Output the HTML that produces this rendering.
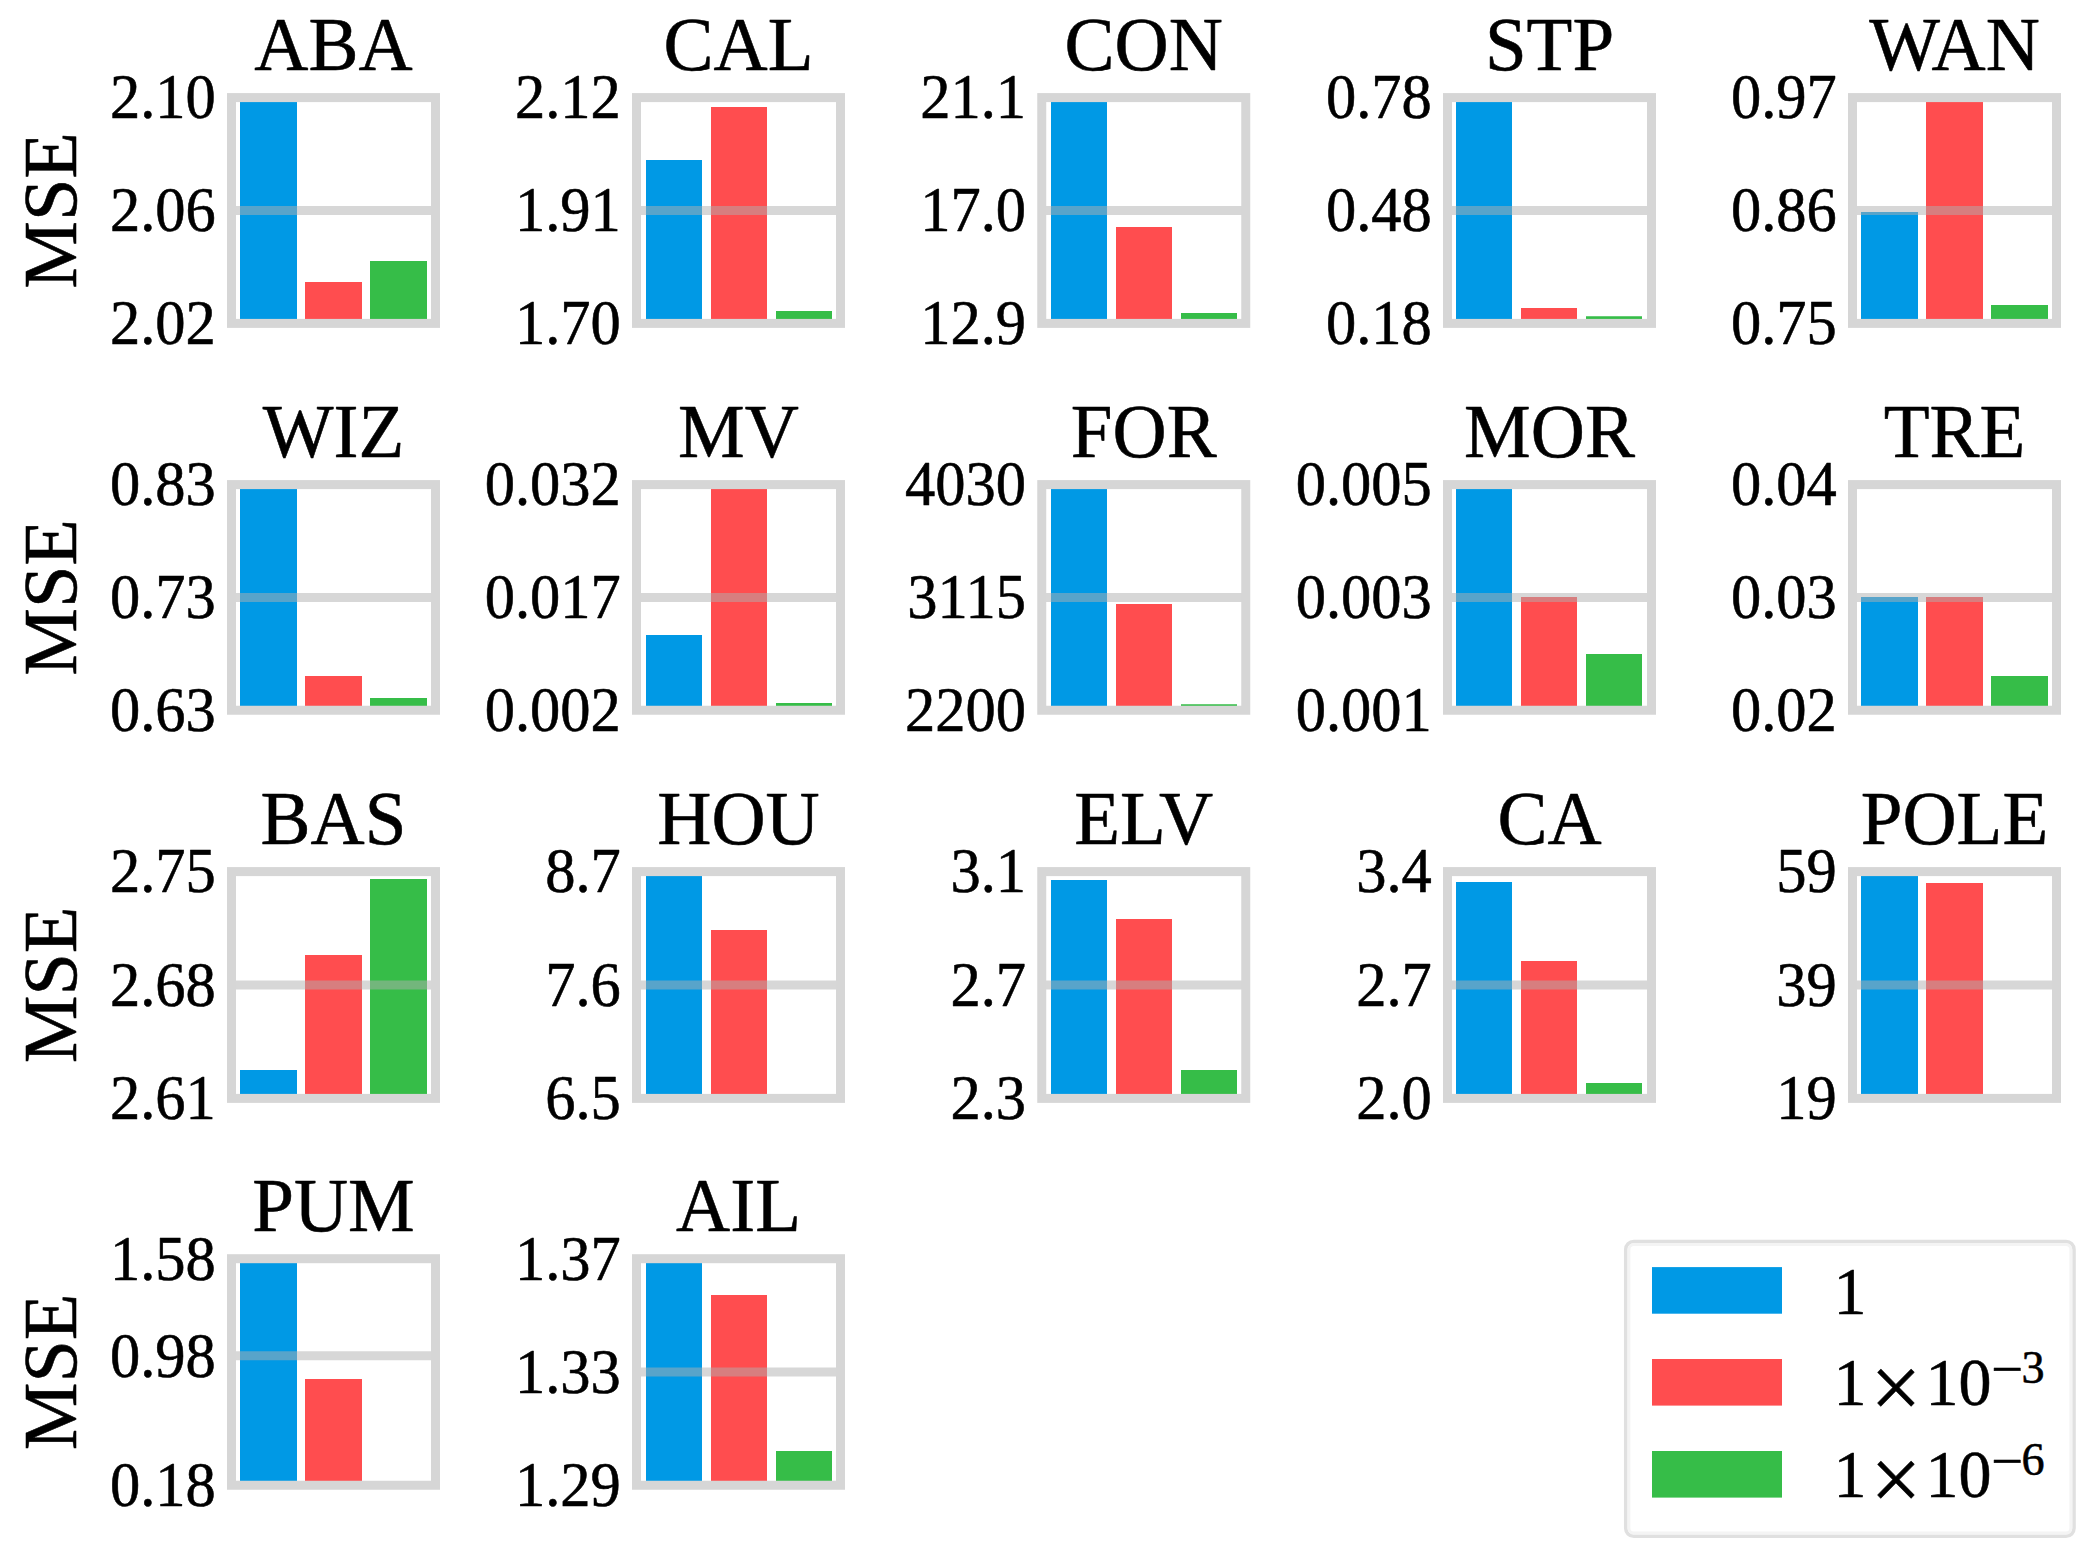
<!DOCTYPE html>
<html lang="en"><head><meta charset="utf-8"><title>MSE bar charts</title>
<style>html,body{margin:0;padding:0;background:#fff}svg{display:block}text{font-family:"Liberation Serif", "DejaVu Serif", serif;fill:#000;stroke:#000;stroke-width:0.55px;stroke-linejoin:round}.tk{font-size:60px;text-anchor:end}.tt{font-size:75px;text-anchor:middle}.yl{font-size:75px;text-anchor:middle}.lg{font-size:66px}</style></head><body>
<svg width="2097" height="1568" viewBox="0 0 2097 1568">
<rect width="2097" height="1568" fill="#fff"/>
<g>
<rect x="240.00" y="97.60" width="57.00" height="225.80" fill="#0099e5"/>
<rect x="305.00" y="282.00" width="57.00" height="41.40" fill="#ff4d4f"/>
<rect x="370.00" y="261.00" width="57.00" height="62.40" fill="#36bd48"/>
<line x1="231.50" y1="210.50" x2="435.50" y2="210.50" stroke="#b0b0b0" stroke-opacity="0.5" stroke-width="9.0"/>
<rect x="231.50" y="97.60" width="204.00" height="225.80" fill="none" stroke="#d6d6d6" stroke-width="9.0"/>
<text class="tk" transform="translate(215.75 118.40) scale(1.008 1.050)">2.10</text>
<text class="tk" transform="translate(215.75 231.30) scale(1.008 1.050)">2.06</text>
<text class="tk" transform="translate(215.75 344.20) scale(1.008 1.050)">2.02</text>
<text class="tt" transform="translate(333.50 70.10) scale(1.000 1.027)">ABA</text>
<text class="yl" transform="translate(75.90 210.50) rotate(-90) scale(1.015 1.027)">MSE</text>
</g>
<g>
<rect x="646.00" y="160.00" width="56.00" height="163.40" fill="#0099e5"/>
<rect x="711.00" y="107.00" width="56.00" height="216.40" fill="#ff4d4f"/>
<rect x="776.00" y="311.00" width="56.00" height="12.40" fill="#36bd48"/>
<line x1="636.50" y1="210.50" x2="840.50" y2="210.50" stroke="#b0b0b0" stroke-opacity="0.5" stroke-width="9.0"/>
<rect x="636.50" y="97.60" width="204.00" height="225.80" fill="none" stroke="#d6d6d6" stroke-width="9.0"/>
<text class="tk" transform="translate(620.75 118.40) scale(1.008 1.050)">2.12</text>
<text class="tk" transform="translate(620.75 231.30) scale(1.008 1.050)">1.91</text>
<text class="tk" transform="translate(620.75 344.20) scale(1.008 1.050)">1.70</text>
<text class="tt" transform="translate(738.50 70.10) scale(1.000 1.027)">CAL</text>
</g>
<g>
<rect x="1051.00" y="97.60" width="56.00" height="225.80" fill="#0099e5"/>
<rect x="1116.00" y="227.00" width="56.00" height="96.40" fill="#ff4d4f"/>
<rect x="1181.00" y="313.00" width="56.00" height="10.40" fill="#36bd48"/>
<line x1="1041.75" y1="210.50" x2="1245.75" y2="210.50" stroke="#b0b0b0" stroke-opacity="0.5" stroke-width="9.0"/>
<rect x="1041.75" y="97.60" width="204.00" height="225.80" fill="none" stroke="#d6d6d6" stroke-width="9.0"/>
<text class="tk" transform="translate(1026.00 118.40) scale(1.008 1.050)">21.1</text>
<text class="tk" transform="translate(1026.00 231.30) scale(1.008 1.050)">17.0</text>
<text class="tk" transform="translate(1026.00 344.20) scale(1.008 1.050)">12.9</text>
<text class="tt" transform="translate(1143.75 70.10) scale(1.000 1.027)">CON</text>
</g>
<g>
<rect x="1456.00" y="97.60" width="56.00" height="225.80" fill="#0099e5"/>
<rect x="1521.00" y="308.00" width="56.00" height="15.40" fill="#ff4d4f"/>
<rect x="1586.00" y="316.25" width="56.00" height="7.15" fill="#36bd48"/>
<line x1="1447.50" y1="210.50" x2="1651.50" y2="210.50" stroke="#b0b0b0" stroke-opacity="0.5" stroke-width="9.0"/>
<rect x="1447.50" y="97.60" width="204.00" height="225.80" fill="none" stroke="#d6d6d6" stroke-width="9.0"/>
<text class="tk" transform="translate(1431.75 118.40) scale(1.008 1.050)">0.78</text>
<text class="tk" transform="translate(1431.75 231.30) scale(1.008 1.050)">0.48</text>
<text class="tk" transform="translate(1431.75 344.20) scale(1.008 1.050)">0.18</text>
<text class="tt" transform="translate(1549.50 70.10) scale(1.000 1.027)">STP</text>
</g>
<g>
<rect x="1861.00" y="212.00" width="57.00" height="111.40" fill="#0099e5"/>
<rect x="1926.00" y="97.60" width="57.00" height="225.80" fill="#ff4d4f"/>
<rect x="1991.00" y="305.00" width="57.00" height="18.40" fill="#36bd48"/>
<line x1="1852.50" y1="210.50" x2="2056.50" y2="210.50" stroke="#b0b0b0" stroke-opacity="0.5" stroke-width="9.0"/>
<rect x="1852.50" y="97.60" width="204.00" height="225.80" fill="none" stroke="#d6d6d6" stroke-width="9.0"/>
<text class="tk" transform="translate(1836.75 118.40) scale(1.008 1.050)">0.97</text>
<text class="tk" transform="translate(1836.75 231.30) scale(1.008 1.050)">0.86</text>
<text class="tk" transform="translate(1836.75 344.20) scale(1.008 1.050)">0.75</text>
<text class="tt" transform="translate(1954.50 70.10) scale(1.000 1.027)">WAN</text>
</g>
<g>
<rect x="240.00" y="484.60" width="57.00" height="225.65" fill="#0099e5"/>
<rect x="305.00" y="676.00" width="57.00" height="34.25" fill="#ff4d4f"/>
<rect x="370.00" y="698.00" width="57.00" height="12.25" fill="#36bd48"/>
<line x1="231.50" y1="597.42" x2="435.50" y2="597.42" stroke="#b0b0b0" stroke-opacity="0.5" stroke-width="9.0"/>
<rect x="231.50" y="484.60" width="204.00" height="225.65" fill="none" stroke="#d6d6d6" stroke-width="9.0"/>
<text class="tk" transform="translate(215.75 505.40) scale(1.008 1.050)">0.83</text>
<text class="tk" transform="translate(215.75 618.22) scale(1.008 1.050)">0.73</text>
<text class="tk" transform="translate(215.75 731.05) scale(1.008 1.050)">0.63</text>
<text class="tt" transform="translate(333.50 457.10) scale(1.000 1.027)">WIZ</text>
<text class="yl" transform="translate(75.90 597.42) rotate(-90) scale(1.015 1.027)">MSE</text>
</g>
<g>
<rect x="646.00" y="635.00" width="56.00" height="75.25" fill="#0099e5"/>
<rect x="711.00" y="484.60" width="56.00" height="225.65" fill="#ff4d4f"/>
<rect x="776.00" y="703.00" width="56.00" height="7.25" fill="#36bd48"/>
<line x1="636.50" y1="597.42" x2="840.50" y2="597.42" stroke="#b0b0b0" stroke-opacity="0.5" stroke-width="9.0"/>
<rect x="636.50" y="484.60" width="204.00" height="225.65" fill="none" stroke="#d6d6d6" stroke-width="9.0"/>
<text class="tk" transform="translate(620.75 505.40) scale(1.008 1.050)">0.032</text>
<text class="tk" transform="translate(620.75 618.22) scale(1.008 1.050)">0.017</text>
<text class="tk" transform="translate(620.75 731.05) scale(1.008 1.050)">0.002</text>
<text class="tt" transform="translate(738.50 457.10) scale(1.000 1.027)">MV</text>
</g>
<g>
<rect x="1051.00" y="484.60" width="56.00" height="225.65" fill="#0099e5"/>
<rect x="1116.00" y="604.00" width="56.00" height="106.25" fill="#ff4d4f"/>
<rect x="1181.00" y="704.25" width="56.00" height="6.00" fill="#36bd48"/>
<line x1="1041.75" y1="597.42" x2="1245.75" y2="597.42" stroke="#b0b0b0" stroke-opacity="0.5" stroke-width="9.0"/>
<rect x="1041.75" y="484.60" width="204.00" height="225.65" fill="none" stroke="#d6d6d6" stroke-width="9.0"/>
<text class="tk" transform="translate(1026.00 505.40) scale(1.008 1.050)">4030</text>
<text class="tk" transform="translate(1026.00 618.22) scale(1.008 1.050)">3115</text>
<text class="tk" transform="translate(1026.00 731.05) scale(1.008 1.050)">2200</text>
<text class="tt" transform="translate(1143.75 457.10) scale(1.000 1.027)">FOR</text>
</g>
<g>
<rect x="1456.00" y="484.60" width="56.00" height="225.65" fill="#0099e5"/>
<rect x="1521.00" y="597.00" width="56.00" height="113.25" fill="#ff4d4f"/>
<rect x="1586.00" y="654.00" width="56.00" height="56.25" fill="#36bd48"/>
<line x1="1447.50" y1="597.42" x2="1651.50" y2="597.42" stroke="#b0b0b0" stroke-opacity="0.5" stroke-width="9.0"/>
<rect x="1447.50" y="484.60" width="204.00" height="225.65" fill="none" stroke="#d6d6d6" stroke-width="9.0"/>
<text class="tk" transform="translate(1431.75 505.40) scale(1.008 1.050)">0.005</text>
<text class="tk" transform="translate(1431.75 618.22) scale(1.008 1.050)">0.003</text>
<text class="tk" transform="translate(1431.75 731.05) scale(1.008 1.050)">0.001</text>
<text class="tt" transform="translate(1549.50 457.10) scale(1.000 1.027)">MOR</text>
</g>
<g>
<rect x="1861.00" y="597.00" width="57.00" height="113.25" fill="#0099e5"/>
<rect x="1926.00" y="597.00" width="57.00" height="113.25" fill="#ff4d4f"/>
<rect x="1991.00" y="676.00" width="57.00" height="34.25" fill="#36bd48"/>
<line x1="1852.50" y1="597.42" x2="2056.50" y2="597.42" stroke="#b0b0b0" stroke-opacity="0.5" stroke-width="9.0"/>
<rect x="1852.50" y="484.60" width="204.00" height="225.65" fill="none" stroke="#d6d6d6" stroke-width="9.0"/>
<text class="tk" transform="translate(1836.75 505.40) scale(1.008 1.050)">0.04</text>
<text class="tk" transform="translate(1836.75 618.22) scale(1.008 1.050)">0.03</text>
<text class="tk" transform="translate(1836.75 731.05) scale(1.008 1.050)">0.02</text>
<text class="tt" transform="translate(1954.50 457.10) scale(1.000 1.027)">TRE</text>
</g>
<g>
<rect x="240.00" y="1070.00" width="57.00" height="28.40" fill="#0099e5"/>
<rect x="305.00" y="955.00" width="57.00" height="143.40" fill="#ff4d4f"/>
<rect x="370.00" y="879.00" width="57.00" height="219.40" fill="#36bd48"/>
<line x1="231.50" y1="985.00" x2="435.50" y2="985.00" stroke="#b0b0b0" stroke-opacity="0.5" stroke-width="9.0"/>
<rect x="231.50" y="871.60" width="204.00" height="226.80" fill="none" stroke="#d6d6d6" stroke-width="9.0"/>
<text class="tk" transform="translate(215.75 892.40) scale(1.008 1.050)">2.75</text>
<text class="tk" transform="translate(215.75 1005.80) scale(1.008 1.050)">2.68</text>
<text class="tk" transform="translate(215.75 1119.20) scale(1.008 1.050)">2.61</text>
<text class="tt" transform="translate(333.50 844.10) scale(1.000 1.027)">BAS</text>
<text class="yl" transform="translate(75.90 985.00) rotate(-90) scale(1.015 1.027)">MSE</text>
</g>
<g>
<rect x="646.00" y="871.60" width="56.00" height="226.80" fill="#0099e5"/>
<rect x="711.00" y="930.00" width="56.00" height="168.40" fill="#ff4d4f"/>
<line x1="636.50" y1="985.00" x2="840.50" y2="985.00" stroke="#b0b0b0" stroke-opacity="0.5" stroke-width="9.0"/>
<rect x="636.50" y="871.60" width="204.00" height="226.80" fill="none" stroke="#d6d6d6" stroke-width="9.0"/>
<text class="tk" transform="translate(620.75 892.40) scale(1.008 1.050)">8.7</text>
<text class="tk" transform="translate(620.75 1005.80) scale(1.008 1.050)">7.6</text>
<text class="tk" transform="translate(620.75 1119.20) scale(1.008 1.050)">6.5</text>
<text class="tt" transform="translate(738.50 844.10) scale(1.000 1.027)">HOU</text>
</g>
<g>
<rect x="1051.00" y="880.00" width="56.00" height="218.40" fill="#0099e5"/>
<rect x="1116.00" y="919.00" width="56.00" height="179.40" fill="#ff4d4f"/>
<rect x="1181.00" y="1070.00" width="56.00" height="28.40" fill="#36bd48"/>
<line x1="1041.75" y1="985.00" x2="1245.75" y2="985.00" stroke="#b0b0b0" stroke-opacity="0.5" stroke-width="9.0"/>
<rect x="1041.75" y="871.60" width="204.00" height="226.80" fill="none" stroke="#d6d6d6" stroke-width="9.0"/>
<text class="tk" transform="translate(1026.00 892.40) scale(1.008 1.050)">3.1</text>
<text class="tk" transform="translate(1026.00 1005.80) scale(1.008 1.050)">2.7</text>
<text class="tk" transform="translate(1026.00 1119.20) scale(1.008 1.050)">2.3</text>
<text class="tt" transform="translate(1143.75 844.10) scale(1.000 1.027)">ELV</text>
</g>
<g>
<rect x="1456.00" y="882.00" width="56.00" height="216.40" fill="#0099e5"/>
<rect x="1521.00" y="961.00" width="56.00" height="137.40" fill="#ff4d4f"/>
<rect x="1586.00" y="1083.00" width="56.00" height="15.40" fill="#36bd48"/>
<line x1="1447.50" y1="985.00" x2="1651.50" y2="985.00" stroke="#b0b0b0" stroke-opacity="0.5" stroke-width="9.0"/>
<rect x="1447.50" y="871.60" width="204.00" height="226.80" fill="none" stroke="#d6d6d6" stroke-width="9.0"/>
<text class="tk" transform="translate(1431.75 892.40) scale(1.008 1.050)">3.4</text>
<text class="tk" transform="translate(1431.75 1005.80) scale(1.008 1.050)">2.7</text>
<text class="tk" transform="translate(1431.75 1119.20) scale(1.008 1.050)">2.0</text>
<text class="tt" transform="translate(1549.50 844.10) scale(1.000 1.027)">CA</text>
</g>
<g>
<rect x="1861.00" y="871.60" width="57.00" height="226.80" fill="#0099e5"/>
<rect x="1926.00" y="883.00" width="57.00" height="215.40" fill="#ff4d4f"/>
<line x1="1852.50" y1="985.00" x2="2056.50" y2="985.00" stroke="#b0b0b0" stroke-opacity="0.5" stroke-width="9.0"/>
<rect x="1852.50" y="871.60" width="204.00" height="226.80" fill="none" stroke="#d6d6d6" stroke-width="9.0"/>
<text class="tk" transform="translate(1836.75 892.40) scale(1.008 1.050)">59</text>
<text class="tk" transform="translate(1836.75 1005.80) scale(1.008 1.050)">39</text>
<text class="tk" transform="translate(1836.75 1119.20) scale(1.008 1.050)">19</text>
<text class="tt" transform="translate(1954.50 844.10) scale(1.000 1.027)">POLE</text>
</g>
<g>
<rect x="240.00" y="1258.70" width="57.00" height="226.55" fill="#0099e5"/>
<rect x="305.00" y="1379.00" width="57.00" height="106.25" fill="#ff4d4f"/>
<line x1="231.50" y1="1355.79" x2="435.50" y2="1355.79" stroke="#b0b0b0" stroke-opacity="0.5" stroke-width="9.0"/>
<rect x="231.50" y="1258.70" width="204.00" height="226.55" fill="none" stroke="#d6d6d6" stroke-width="9.0"/>
<text class="tk" transform="translate(215.75 1279.50) scale(1.008 1.050)">1.58</text>
<text class="tk" transform="translate(215.75 1376.59) scale(1.008 1.050)">0.98</text>
<text class="tk" transform="translate(215.75 1506.05) scale(1.008 1.050)">0.18</text>
<text class="tt" transform="translate(333.50 1231.20) scale(1.000 1.027)">PUM</text>
<text class="yl" transform="translate(75.90 1371.97) rotate(-90) scale(1.015 1.027)">MSE</text>
</g>
<g>
<rect x="646.00" y="1258.70" width="56.00" height="226.55" fill="#0099e5"/>
<rect x="711.00" y="1295.00" width="56.00" height="190.25" fill="#ff4d4f"/>
<rect x="776.00" y="1451.00" width="56.00" height="34.25" fill="#36bd48"/>
<line x1="636.50" y1="1371.97" x2="840.50" y2="1371.97" stroke="#b0b0b0" stroke-opacity="0.5" stroke-width="9.0"/>
<rect x="636.50" y="1258.70" width="204.00" height="226.55" fill="none" stroke="#d6d6d6" stroke-width="9.0"/>
<text class="tk" transform="translate(620.75 1279.50) scale(1.008 1.050)">1.37</text>
<text class="tk" transform="translate(620.75 1392.77) scale(1.008 1.050)">1.33</text>
<text class="tk" transform="translate(620.75 1506.05) scale(1.008 1.050)">1.29</text>
<text class="tt" transform="translate(738.50 1231.20) scale(1.000 1.027)">AIL</text>
</g>
<g>
<rect x="1625.75" y="1241.5" width="448.25" height="294.75" rx="8" ry="8" fill="#fff" stroke="#e0e0e0" stroke-width="3.6"/>
<rect x="1628.9" y="1244.6" width="442" height="288.5" rx="5" ry="5" fill="none" stroke="#f4f4f4" stroke-width="3"/>
<rect x="1652.00" y="1267.10" width="130.00" height="46.60" fill="#0099e5"/>
<rect x="1652.00" y="1359.00" width="130.00" height="46.60" fill="#ff4d4f"/>
<rect x="1652.00" y="1451.00" width="130.00" height="46.60" fill="#36bd48"/>
<text class="lg" style="font-size:66px" transform="translate(1833.50 1313.75) scale(1.000 1.027)">1</text>
<text class="lg" style="font-size:66px" transform="translate(1833.50 1404.75) scale(1.000 1.027)">1</text>
<text class="lg" style="font-size:90px" transform="translate(1870.40 1418.45) scale(1.000 1.000)">×</text>
<text class="lg" style="font-size:66px" transform="translate(1925.50 1404.75) scale(1.000 1.027)">10</text>
<text class="lg" style="font-size:56.4px" transform="translate(1991.20 1387.70) scale(1.000 1.000)">−</text>
<text class="lg" style="font-size:46.2px" transform="translate(2021.50 1383.00) scale(1.000 1.027)">3</text>
<text class="lg" style="font-size:66px" transform="translate(1833.50 1496.75) scale(1.000 1.027)">1</text>
<text class="lg" style="font-size:90px" transform="translate(1870.40 1510.45) scale(1.000 1.000)">×</text>
<text class="lg" style="font-size:66px" transform="translate(1925.50 1496.75) scale(1.000 1.027)">10</text>
<text class="lg" style="font-size:56.4px" transform="translate(1991.20 1479.70) scale(1.000 1.000)">−</text>
<text class="lg" style="font-size:46.2px" transform="translate(2021.50 1475.00) scale(1.000 1.027)">6</text>
</g>
</svg></body></html>
